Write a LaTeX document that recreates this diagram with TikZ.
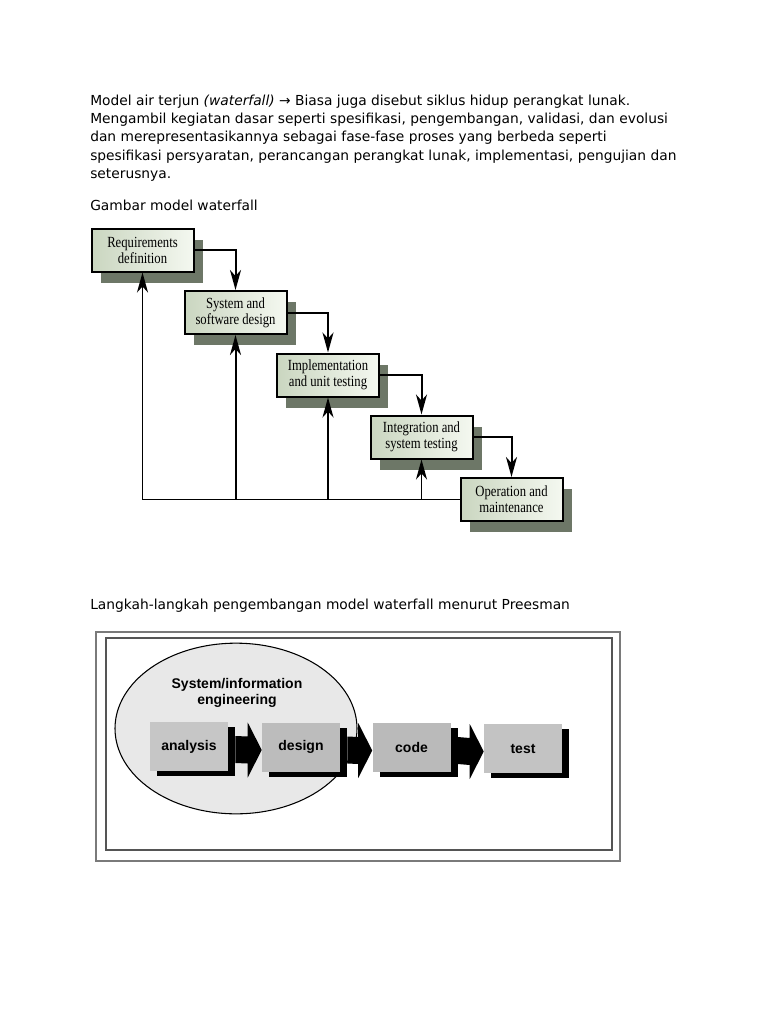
\documentclass[tikz,border=0pt]{standalone}
\usepackage{fontspec}
\setmainfont{DejaVu Sans}
\newfontfamily\boxfont[FakeStretch=0.82]{Liberation Serif}
\newfontfamily\stepfont{Liberation Sans}
\usepackage{tikz}
\usetikzlibrary{shapes, arrows.meta, positioning, calc, shadows}
\definecolor{wfshade}{HTML}{6D7767}
\definecolor{wfdark}{HTML}{CAD6C0}
\definecolor{wflight}{HTML}{F4F8F0}
\definecolor{framegray}{HTML}{7A7A7A}
\definecolor{ovalgray}{HTML}{E8E8E8}
\definecolor{gboxc}{HTML}{C6C6C6}
\tikzstyle{txt} = [anchor=base west, inner sep=0pt, font=\fontsize{10.35}{12}\selectfont]
\tikzstyle{wbox} = [rectangle, draw, line width=1.5pt, left color=wfdark, right color=wflight, minimum width=76.5pt, minimum height=32.25pt, inner sep=0pt, align=center, font=\boxfont\fontsize{11.6}{12}\selectfont, drop shadow={shadow xshift=6.75pt, shadow yshift=-8.25pt, fill=wfshade, opacity=1}]
\tikzstyle{gbox} = [rectangle, fill=gboxc, minimum width=58.5pt, minimum height=36.75pt, inner sep=0pt, font=\stepfont\bfseries\fontsize{10.5}{12}\selectfont, drop shadow={shadow xshift=5.25pt, shadow yshift=-3.75pt, fill=black, opacity=1}]
\tikzstyle{line} = [draw, line width=1.5pt, -{Stealth[length=15pt, width=8.25pt, inset=4.5pt]}]
\tikzstyle{fback} = [draw, line width=1.2pt, -{Stealth[length=15pt, width=8.25pt, inset=4.5pt]}]
\newcommand{\blockarrow}[2]{\fill ($(#1.east)+(7,-10.5)$) -- ($(#2.west)+(-14,-10.5)$) -- ($(#2.west)+(-14,-24.5)$) -- ($(#2.west)+(0,3)$) -- ($(#2.west)+(-14,30.5)$) -- ($(#2.west)+(-14,16.5)$) -- ($(#1.east)+(7,16.5)$) -- cycle;}

\begin{document}
\begin{tikzpicture}[x=0.75pt, y=-0.75pt]
				\useasboundingbox (0,0) rectangle (768,1024);
				\fill [white] (0,0) rectangle (768,1024);

				\node [txt] (t1) at (90,105) {Model air terjun \textit{(waterfall)} → Biasa juga disebut siklus hidup perangkat lunak.};
				\node [txt] (t2) at (90,123) {Mengambil kegiatan dasar seperti spesifikasi, pengembangan, validasi, dan evolusi};
				\node [txt] (t3) at (90,141) {dan merepresentasikannya sebagai fase-fase proses yang berbeda seperti};
				\node [txt] (t4) at (90,160) {spesifikasi persyaratan, perancangan perangkat lunak, implementasi, pengujian dan};
				\node [txt] (t5) at (90,178) {seterusnya.};
				\node [txt] (gambar) at (90,210) {Gambar model waterfall};

				\node [wbox] (req) at (142.5,250) {Requirements\\definition};
				\node [wbox] (sys) at (235.5,312.5) {System and\\software design};
				\node [wbox] (imp) at (328,375) {Implementation\\and unit testing};
				\node [wbox] (int) at (421.5,437) {Integration and\\system testing};
				\node [wbox] (op) at (511.5,499.5) {Operation and\\maintenance};

				\path [line] (req.east) -| (sys.north);
				\path [line] (sys.east) -| (imp.north);
				\path [line] (imp.east) -| (int.north);
				\path [line] (int.east) -| (op.north);
				\path [fback] (op.west) -| (req.south);
				\path [line] (sys.south |- op.west) -- (sys.south);
				\path [fback] (imp.south |- op.west) -- (imp.south);
				\path [fback] (int.south |- op.west) -- (int.south);

				\node [txt] (langkah) at (90,609) {Langkah-langkah pengembangan model waterfall menurut Preesman};

				\draw [framegray, line width=1.1pt] (96,632) rectangle (620,861);
				\draw [framegray!70!black, line width=0.8pt] (106,638) rectangle (612,850);

				\node [ellipse, draw, line width=0.8pt, fill=ovalgray, minimum width=181.5pt, minimum height=128pt] (oval) at (236,728.5) {};
				\node [align=center, inner sep=0pt, font=\stepfont\bfseries\fontsize{10.5}{11.5}\selectfont] (oname) at (237,693) {System/information\\engineering};

				\node [gbox] (ana) at (189,746.5) {analysis\hspace{6pt}};
				\node [gbox, fill=gboxc!95!black] (des) at (301,747) {design};
				\node [gbox, fill=gboxc!94!black] (code) at (411.5,747.5) {code};
				\node [gbox, fill=gboxc!105!white] (test) at (523,748.5) {test};

				\blockarrow{ana}{des}
				\blockarrow{des}{code}
				\blockarrow{code}{test}
			\end{tikzpicture}
\end{document}
